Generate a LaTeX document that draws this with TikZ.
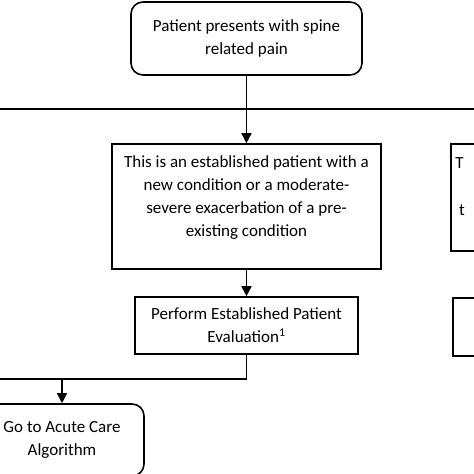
\documentclass[tikz,border=0pt]{standalone}
\usepackage{fontspec}
\setmainfont{Carlito}
\usetikzlibrary{arrows.meta,positioning}

\tikzset{
  flowfont/.style={font=\fontsize{17}{23}\selectfont},
  flowbox/.style={draw, line width=1.6pt, align=center, flowfont, inner sep=0pt},
  roundbox/.style={flowbox, rounded corners=12pt},
  flowline/.style={line width=1.6pt},
  flowarrow/.style={flowline, -{Triangle[width=10pt,length=10pt]}},
}

\begin{document}
\begin{tikzpicture}[x=1pt,y=-1pt]
        \useasboundingbox (0,0) rectangle (474,474);
        \clip (0,0) rectangle (474,474);

        % Start
        \node[roundbox, minimum width=231pt, minimum height=73pt] (presents) at (246.5,38.5) {Patient presents with spine\\related pain};

        % Branch line across the chart
        \coordinate (branchleft) at (-5,109);
        \coordinate (branchright) at (480,109);
        \draw[flowline] (branchleft) -- (branchright);

        % Established patient, new condition
        \node[flowbox, minimum width=269pt, minimum height=125pt] (established) at (246.5,206.5) {};
        \node[align=center, flowfont, inner sep=0pt] (establishedtext) at (246.5,198) {This is an established patient with a\\new condition or a moderate-\\severe exacerbation of a pre-\\existing condition};

        % Evaluation
        \node[flowbox, minimum width=223pt, minimum height=57pt] (evaluation) at (246.5,325.5) {Perform Established Patient\\Evaluation\textsuperscript{1}};

        % Acute care
        \node[roundbox, minimum width=164pt, minimum height=72pt] (acute) at (62,440) {Go to Acute Care\\Algorithm};

        % Boxes of the next branch (cut off at the right)
        \node[flowbox, minimum width=100pt, minimum height=107pt] (otherpatient) at (501,197.5) {};
        \node[flowfont, inner sep=0pt] (otherT) at (459.5,163) {T};
        \node[flowfont, inner sep=0pt] (othert) at (462,210) {t};
        \node[flowbox, minimum width=100pt, minimum height=58pt] (otherevaluation) at (503,327) {};

        % Connectors
        \draw[flowarrow] (presents) -- (established);
        \draw[flowarrow] (established) -- (evaluation);
        \coordinate (mergeleft) at (-5,379);
        \draw[flowline] (evaluation.south) |- (mergeleft);
        \coordinate (acutein) at (acute.north |- mergeleft);
        \draw[flowarrow] (acutein) -- (acute.north);
\end{tikzpicture}
\end{document}
